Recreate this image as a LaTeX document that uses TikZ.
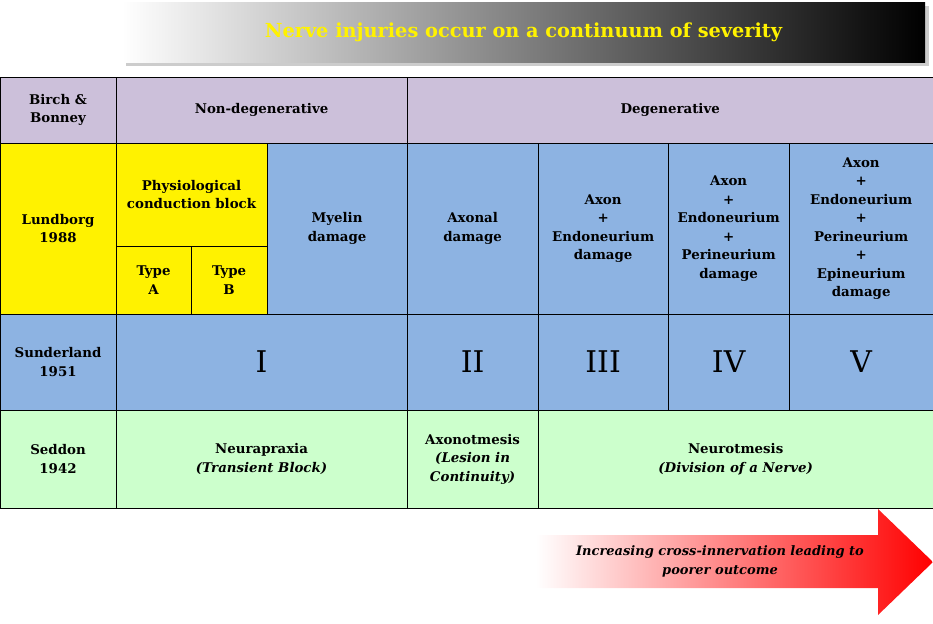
\documentclass[tikz,border=0pt]{standalone}
\usepackage{fontspec}
\setmainfont{DejaVu Serif}
\usetikzlibrary{shadows}
\definecolor{lavcolor}{RGB}{204,192,218}
\definecolor{bluecolor}{RGB}{141,179,226}
\definecolor{greencolor}{RGB}{204,255,204}
\tikzset{
  cell/.style={draw=black, line width=0.5pt, align=center, inner sep=1pt,
    font=\fontsize{7.6}{10.5}\selectfont\bfseries},
  numeral/.style={cell, font=\fontsize{17}{20}\selectfont}
}
% cell from pixel corners
\newcommand{\cellat}[7]{%
  \node[#1, fill=#2, minimum width={(#5-#3)*0.02cm}, minimum height={(#6-#4)*0.02cm}]
    (#7) at ({(#3+#5)/2*0.02},{-(#4+#6)/2*0.02})}
\begin{document}
\begin{tikzpicture}
\useasboundingbox (0,0) rectangle (18.66,-12.46);
% title banner
\node[left color=white, right color=black, minimum width=16.06cm, minimum height=1.2cm,
  drop shadow={shadow xshift=2pt, shadow yshift=-2pt, opacity=0.4},
  text=yellow, font=\fontsize{11}{13}\selectfont\bfseries]
  (title) at (10.47,-0.64) {Nerve injuries occur on a continuum of severity};
% row 1
\cellat{cell}{lavcolor}{0}{77}{116}{143}{birch} {Birch \&\\Bonney};
\cellat{cell}{lavcolor}{116}{77}{407}{143}{nondeg} {Non-degenerative};
\cellat{cell}{lavcolor}{407}{77}{933}{143}{deg} {Degenerative};
% row 2
\cellat{cell}{yellow}{0}{143}{116}{314}{lund} {Lundborg\\1988};
\cellat{cell}{yellow}{116}{143}{267}{246}{phys} {Physiological\\conduction block};
\cellat{cell}{yellow}{116}{246}{191}{314}{typea} {Type\\A};
\cellat{cell}{yellow}{191}{246}{267}{314}{typeb} {Type\\B};
\cellat{cell}{bluecolor}{267}{143}{407}{314}{myelin} {Myelin\\damage};
\cellat{cell}{bluecolor}{407}{143}{538}{314}{axonal} {Axonal\\damage};
\cellat{cell}{bluecolor}{538}{143}{668}{314}{endo} {Axon\\+\\Endoneurium\\damage};
\cellat{cell}{bluecolor}{668}{143}{789}{314}{peri} {Axon\\+\\Endoneurium\\+\\Perineurium\\damage};
\cellat{cell}{bluecolor}{789}{143}{933}{314}{epi} {Axon\\+\\Endoneurium\\+\\Perineurium\\+\\Epineurium\\damage};
% row 3
\cellat{cell}{bluecolor}{0}{314}{116}{410}{sund} {Sunderland\\1951};
\cellat{numeral}{bluecolor}{116}{314}{407}{410}{gradei} {I};
\cellat{numeral}{bluecolor}{407}{314}{538}{410}{gradeii} {II};
\cellat{numeral}{bluecolor}{538}{314}{668}{410}{gradeiii} {III};
\cellat{numeral}{bluecolor}{668}{314}{789}{410}{gradeiv} {IV};
\cellat{numeral}{bluecolor}{789}{314}{933}{410}{gradev} {V};
% row 4
\cellat{cell}{greencolor}{0}{410}{116}{508}{seddon} {Seddon\\1942};
\cellat{cell}{greencolor}{116}{410}{407}{508}{praxia} {Neurapraxia\\\textit{(Transient Block)}};
\cellat{cell}{greencolor}{407}{410}{538}{508}{axono} {Axonotmesis\\\textit{(Lesion in}\\\textit{Continuity)}};
\cellat{cell}{greencolor}{538}{410}{933}{508}{neuro} {Neurotmesis\\\textit{(Division of a Nerve)}};
% severity arrow
\shade[left color=white, right color=red]
  (10.72,-10.70) -- (17.56,-10.70) -- (17.56,-10.18) -- (18.66,-11.24)
  -- (17.56,-12.30) -- (17.56,-11.76) -- (10.72,-11.76) -- cycle;
\node[align=center, font=\fontsize{7.4}{10.5}\selectfont\bfseries\itshape]
  (outcome) at (14.40,-11.23) {Increasing cross-innervation leading to\\poorer outcome};
\end{tikzpicture}
\end{document}
